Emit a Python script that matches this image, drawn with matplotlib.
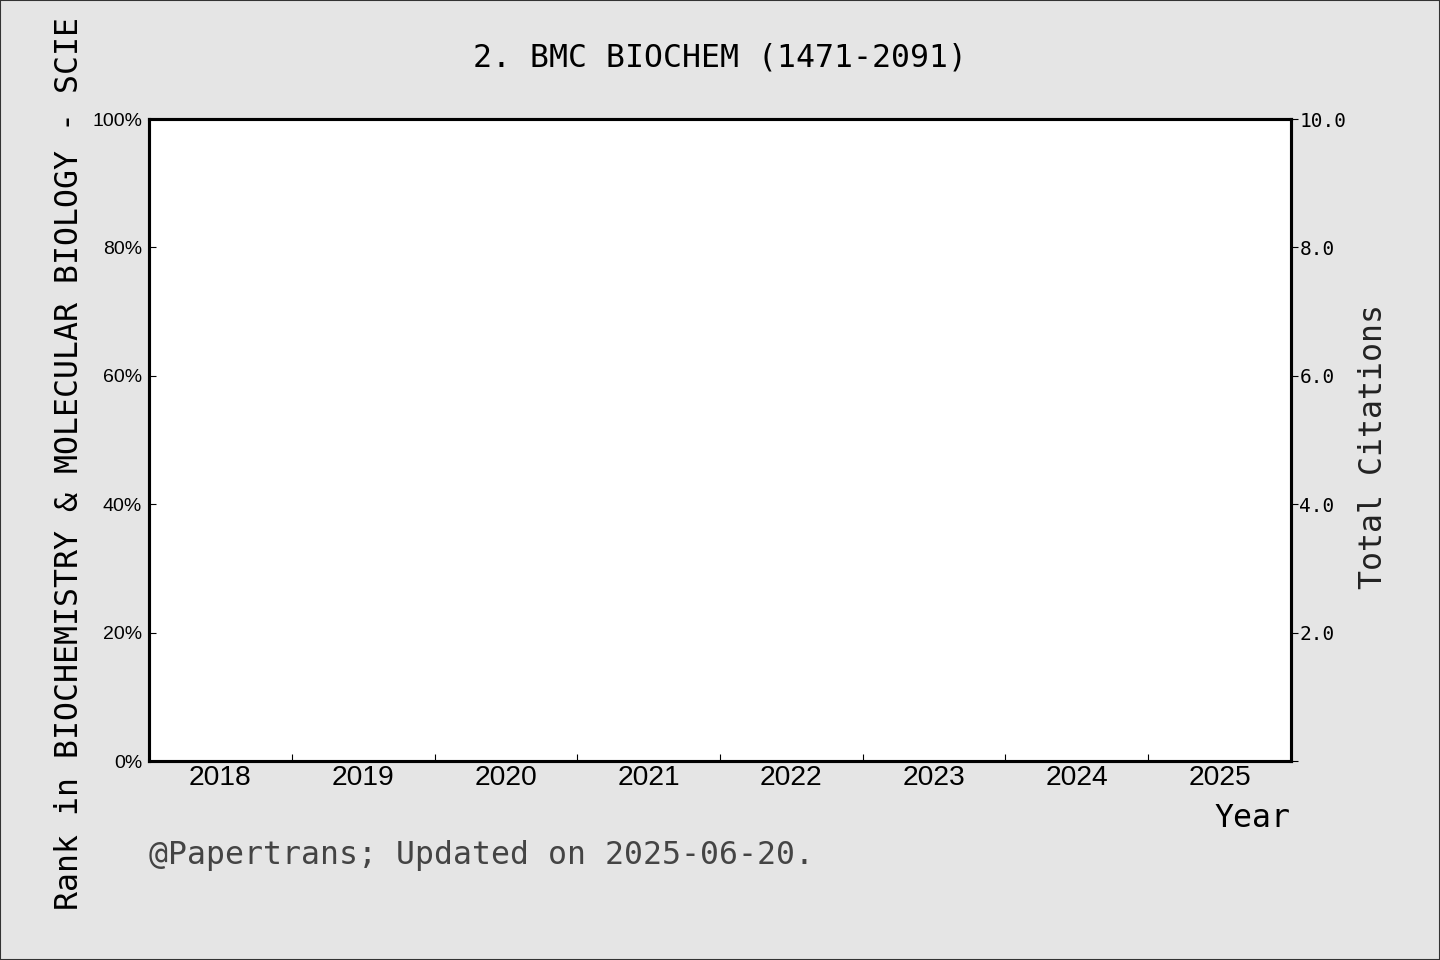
import numpy as np
import matplotlib.pyplot as plt
from matplotlib.patches import Rectangle

# chart data (no ranks or citations recorded for this journal)
years = ['2018', '2019', '2020', '2021', '2022', '2023', '2024', '2025']
rank_ticks = [0, 0.2, 0.4, 0.6, 0.8, 1.0]
rank_labels = ['0%', '20%', '40%', '60%', '80%', '100%']
cite_ticks = [0, 2, 4, 6, 8, 10]
cite_labels = ['', '2.0', '4.0', '6.0', '8.0', '10.0']

title = '2. BMC BIOCHEM (1471-2091)'
left_label = 'Rank in BIOCHEMISTRY & MOLECULAR BIOLOGY - SCIE'
right_label = 'Total Citations'
footer = '@Papertrans; Updated on 2025-06-20.'

mono = ['DejaVu Sans Mono']
sans = ['Liberation Sans', 'DejaVu Sans']
big = 22.7

fig = plt.figure(figsize=(14.4, 9.6), dpi=100, facecolor='#e5e5e5')
ax = fig.add_axes([0.1035, 0.207, 0.793, 0.669])
ax.set_facecolor('white')

x = np.arange(len(years))
ax.set_xlim(-0.5, len(years) - 0.5)
ax.set_xticks(x)
ax.set_xticklabels(years, fontsize=20.3, family=sans)
ax.set_xticks(x[:-1] + 0.5, minor=True)
ax.tick_params(axis='x', which='major', length=0, pad=3)
ax.tick_params(axis='x', which='minor', direction='in', length=5, width=0.8)

ax.set_ylim(0, 1)
ax.set_yticks(rank_ticks)
ax.set_yticklabels(rank_labels, fontsize=14, family=sans)
ax.tick_params(axis='y', direction='in', length=5, width=0.8, pad=5)

for sp in ax.spines.values():
    sp.set_linewidth(2.2)

ax2 = ax.twinx()
ax2.set_ylim(0, 10)
ax2.set_yticks(cite_ticks)
ax2.set_yticklabels(cite_labels, fontsize=14, family=mono)
ax2.tick_params(axis='y', direction='out', length=5, width=0.8, pad=1)
for sp in ax2.spines.values():
    sp.set_linewidth(2.2)

fig.text(0.5, 0.94, title, ha='center', va='center', fontsize=big, family=mono)
fig.text(0.0485, 0.517, left_label, rotation=90, ha='center', va='center',
         fontsize=big, family=mono)
fig.text(0.9535, 0.535, right_label, rotation=90, ha='center', va='center',
         fontsize=big, family=mono, color='#222222')
fig.text(0.896, 0.147, 'Year', ha='right', va='center', fontsize=big, family=mono)
fig.text(0.1035, 0.109, footer, ha='left', va='center', fontsize=big,
         family=mono, color='#444444')

fig.patches.append(Rectangle((0, 0), 1, 1, transform=fig.transFigure,
                             fill=False, edgecolor='#333333', linewidth=1.5))

fig.savefig('out.png', dpi=100, facecolor=fig.get_facecolor())
